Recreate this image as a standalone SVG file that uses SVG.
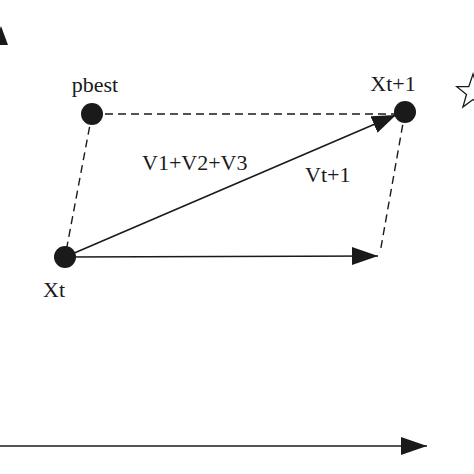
<svg xmlns="http://www.w3.org/2000/svg" width="474" height="474" viewBox="0 0 474 474">
<style>
.lbl{font-family:"Liberation Serif","Times New Roman",serif;font-size:22px;fill:#1a1a1a}
.dash{stroke:#1a1a1a;stroke-width:1.4;stroke-dasharray:8 5;fill:none}
.vec{stroke:#1a1a1a;stroke-width:1.6;fill:none}
.node{fill:#1a1a1a}
</style>
<defs>
<marker id="ah" markerUnits="userSpaceOnUse" markerWidth="28" markerHeight="20" refX="26" refY="9" orient="auto">
<path d="M0,0 L26,9 L0,18 z" fill="#1a1a1a"/>
</marker>
<marker id="ah2" markerUnits="userSpaceOnUse" markerWidth="26" markerHeight="20" refX="24" refY="9" orient="auto">
<path d="M0,0 L24,9 L0,18 z" fill="#1a1a1a"/>
</marker>
</defs>
<rect width="474" height="474" fill="#ffffff"/>
<g id="axes">
<polygon points="-6,45 1,26 8,45" fill="#1a1a1a"/>
<line x1="0" y1="446" x2="427" y2="446" stroke="#555555" stroke-width="2" marker-end="url(#ah)"/>
</g>
<g id="connectors">
<line class="dash" x1="92" y1="114" x2="405" y2="114"/>
<line class="dash" x1="92" y1="114" x2="65" y2="257"/>
<line class="dash" x1="405" y1="112" x2="380" y2="253"/>
<line class="vec" x1="65" y1="257" x2="378" y2="256" marker-end="url(#ah)"/>
<line class="vec" x1="65" y1="257" x2="396" y2="115" marker-end="url(#ah2)"/>
</g>
<g id="node-pbest">
<circle class="node" cx="92" cy="114" r="11"/>
<text class="lbl" x="95" y="92" text-anchor="middle">pbest</text>
</g>
<g id="node-xt1">
<circle class="node" cx="405" cy="112" r="11"/>
<text class="lbl" x="393" y="91" text-anchor="middle">Xt+1</text>
</g>
<g id="node-xt">
<circle class="node" cx="65" cy="257" r="11"/>
<text class="lbl" x="43" y="297">Xt</text>
</g>
<g id="labels">
<text class="lbl" x="142" y="170">V1+V2+V3</text>
<text class="lbl" x="305" y="182">Vt+1</text>
</g>
<g id="star">
<polygon points="473,74 477.2,86.7 489.2,86.7 479.5,94.4 483.1,107.1 473,99.5 462.9,107.1 466.5,94.4 456.8,86.7 468.8,86.7" fill="none" stroke="#1a1a1a" stroke-width="1.3"/>
</g>
</svg>
